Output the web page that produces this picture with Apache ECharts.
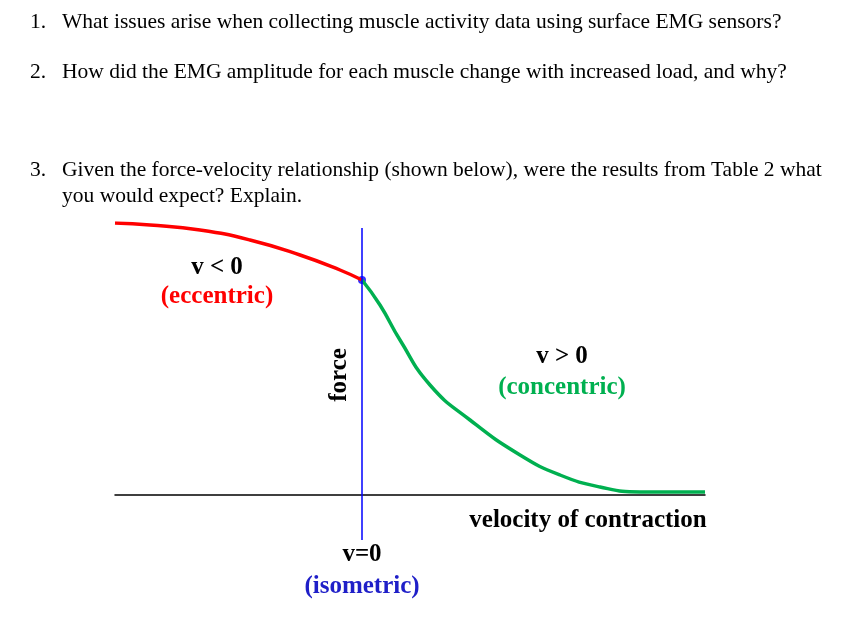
<!DOCTYPE html><html><head><meta charset="utf-8">
<script src="https://cdn.jsdelivr.net/npm/echarts@6/dist/echarts.min.js"></script>
<style>body{margin:0;background:#fff}#c{width:851px;height:621px}</style></head><body><div id="c"></div>
<script>
const questions=[
 ["1.","What issues arise when collecting muscle activity data using surface EMG sensors?",22],
 ["2.","How did the EMG amplitude for each muscle change with increased load, and why?",72],
 ["3.","Given the force-velocity relationship (shown below), were the results from Table 2 what",170],
 ["","you would expect? Explain.",196]];
const eccentric=[[-247,272],[-212,270],[-162,265],[-112,255],[-62,240],[-22,225],[0,215]];
const concentric=[[0,215],[18,190],[38,155],[68,110],[108,75],[158,40],[198,20],[238,8],[278,3],[343,3]];
const isoLine=[[0,-45],[0,267]];
const isoPoint=[[0,215]];
const serif='"Liberation Serif","DejaVu Serif",serif';
const g=[];
questions.forEach(q=>{
 if(q[0])g.push({type:'text',x:30,y:q[2],style:{text:q[0],font:'21.5px '+serif,fill:'#000',verticalAlign:'middle'}});
 g.push({type:'text',x:62,y:q[2],style:{text:q[1],font:'21.5px '+serif,fill:'#000',verticalAlign:'middle'}});
});
function lab(t,x,y,c,rot){g.push({type:'text',x:x,y:y,rotation:rot||0,style:{text:t,font:'bold 25px '+serif,fill:c,align:'center',verticalAlign:'middle'}});}
lab('v < 0',217,268,'#000');lab('(eccentric)',217,297,'#ff0000');
lab('force',340,375,'#000',Math.PI/2);
lab('v > 0',562,357,'#000');lab('(concentric)',562,388,'#00b050');
lab('velocity of contraction',588,521,'#000');
lab('v=0',362,555,'#000');lab('(isometric)',362,587,'#1f1fc8');
const ch=echarts.init(document.getElementById('c'));
ch.setOption({animation:false,
 grid:{left:115,right:146,top:223,bottom:76},
 xAxis:{type:'value',min:-247,max:343,axisLine:{onZero:true,lineStyle:{color:'#000',width:1.5}},axisTick:{show:false},axisLabel:{show:false},splitLine:{show:false}},
 yAxis:{type:'value',min:-50,max:272,show:false},
 graphic:g,
 series:[
  {type:'line',data:eccentric,smooth:true,symbol:'none',lineStyle:{color:'#ff0000',width:3.5}},
  {type:'line',data:concentric,smooth:true,symbol:'none',lineStyle:{color:'#00b050',width:3.5}},
  {type:'line',data:isoLine,symbol:'none',lineStyle:{color:'#0000ff',width:1.5}},
  {type:'scatter',data:isoPoint,symbolSize:8,itemStyle:{color:'#0000ff'}}
 ]});
</script></body></html>
